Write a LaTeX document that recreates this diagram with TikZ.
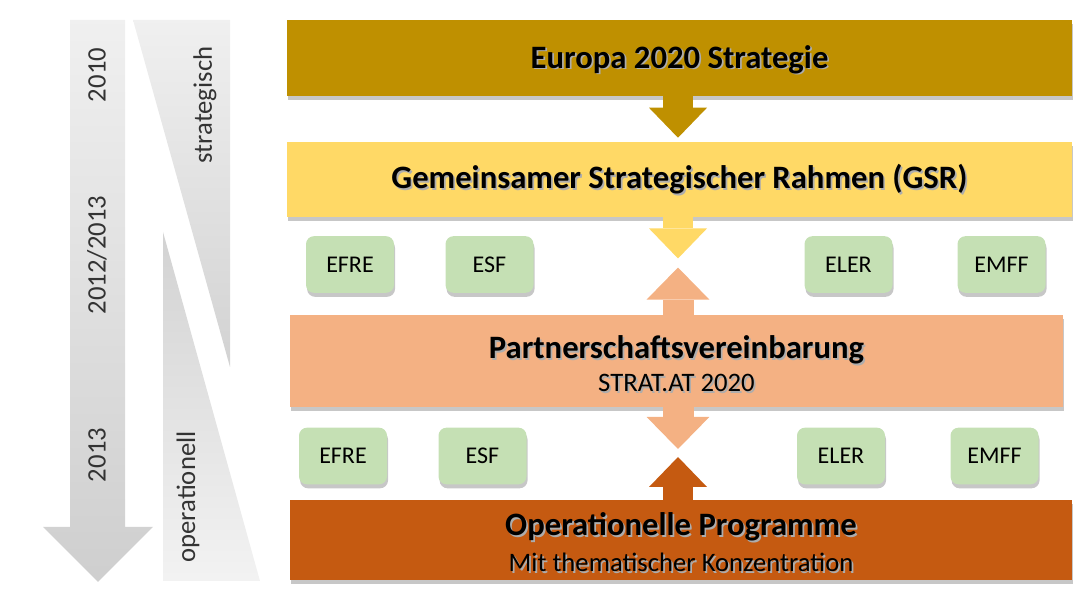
\documentclass[tikz,border=0pt]{standalone}
\usepackage{fontspec}
\setmainfont{Carlito}
\usetikzlibrary{arrows.meta,shadows}

\definecolor{goldbrown}{HTML}{BF9000}
\definecolor{gsryellow}{HTML}{FFD966}
\definecolor{pvsalmon}{HTML}{F4B183}
\definecolor{oporange}{HTML}{C55A11}
\definecolor{fundgreen}{HTML}{C5E0B4}

% text with a soft grey copy behind it
\newcommand{\shtxt}[1]{\leavevmode\rlap{\hspace{1.3pt}\raisebox{-1.3pt}{\color{black!32}#1}}#1}
\newcommand{\sublinefont}{\fontsize{20}{24}\selectfont\mdseries}

\tikzset{
  boxshadow/.style={drop shadow={shadow xshift=0.8pt,shadow yshift=-3pt,opacity=0.22,fill=black}},
  levelbox/.style={inner sep=0pt,align=center,boxshadow,
    font=\fontsize{24.5}{29}\selectfont\bfseries},
  fund/.style={fill=fundgreen,rounded corners=6pt,inner sep=0pt,
    minimum width=66pt,minimum height=42.5pt,boxshadow,
    font=\fontsize{18}{20}\selectfont},
  blockarrow/.style={line width=22.5pt,shorten >=3pt,
    -{Triangle[width=43.5pt,length=22.5pt,line width=0pt]}},
  widearrow/.style={line width=23.25pt,shorten >=3.4pt,
    -{Triangle[width=47pt,length=24pt,line width=0pt]}},
  phasetxt/.style={rotate=90,font=\fontsize{20}{22}\selectfont,text=black!80}
}

\begin{document}
\begin{tikzpicture}[x=0.75pt,y=-0.75pt]
\useasboundingbox (0,0) rectangle (1083,605);

% time line and the two wedges
\shade[top color=gray!12,bottom color=gray!38] (70,20) -- (125,20) -- (125,527) -- (153,527)
  -- (98,582) -- (43,527) -- (70,527) -- cycle;
\shade[top color=gray!12,bottom color=gray!35] (133,20) -- (230,20) -- (230,367) -- cycle;
\shade[top color=gray!35,bottom color=gray!10] (163,232) -- (260,581) -- (163,581) -- cycle;

\node[phasetxt] (y2010) at (97,75) {2010};
\node[phasetxt] (y2012) at (97,255) {2012/2013};
\node[phasetxt] (y2013) at (97,455) {2013};
\node[phasetxt] (strat) at (205,105) {strategisch};
\node[phasetxt] (oper) at (188,497) {operationell};

% the four levels
\coordinate (axis) at (678,0);
\coordinate (gapA) at (678,263);
\coordinate (gapB) at (678,453);

\node[levelbox,fill=goldbrown,minimum width=588.75pt,minimum height=57pt] (europa) at (679.5,58)
  {\shtxt{Europa 2020 Strategie}\rule{0pt}{20.5pt}};
\node[levelbox,fill=gsryellow,minimum width=588.75pt,minimum height=56.25pt] (gsr) at (679.5,179.5)
  {\shtxt{Gemeinsamer Strategischer Rahmen (GSR)}\rule{0pt}{19.5pt}};
\node[levelbox,fill=pvsalmon,minimum width=579.75pt,minimum height=69pt] (pv) at (676.5,361)
  {\shtxt{Partnerschaftsvereinbarung}\rule{0pt}{22.2pt}\\[-4.2pt]{\sublinefont\shtxt{STRAT.AT 2020}}};
\node[levelbox,fill=oporange,minimum width=586.5pt,minimum height=60pt] (op) at (681,540)
  {\shtxt{Operationelle Programme}\rule{0pt}{21.5pt}\\[-2pt]{\sublinefont\shtxt{Mit thematischer Konzentration}}};

\draw[blockarrow,goldbrown] (europa.south -| axis) -- (gsr.north -| axis);
\draw[blockarrow,gsryellow,shorten >=3.4pt] (gsr.south -| axis) -- (gapA);
\draw[widearrow,pvsalmon] (pv.north -| axis) -- (gapA);
\draw[widearrow,pvsalmon,shorten >=3pt] (pv.south -| axis) -- (gapB);
\draw[blockarrow,oporange] (op.north -| axis) -- (gapB);

% funds
\foreach \fname/\xa/\xb in {EFRE/350/343,ESF/489.5/482.5,ELER/848.5/841,EMFF/1001.5/994.5}{
  \node[fund] (up\fname) at (\xa,264.5) {\fname};
  \node[fund] (lo\fname) at (\xb,456) {\fname};
}
\end{tikzpicture}
\end{document}
